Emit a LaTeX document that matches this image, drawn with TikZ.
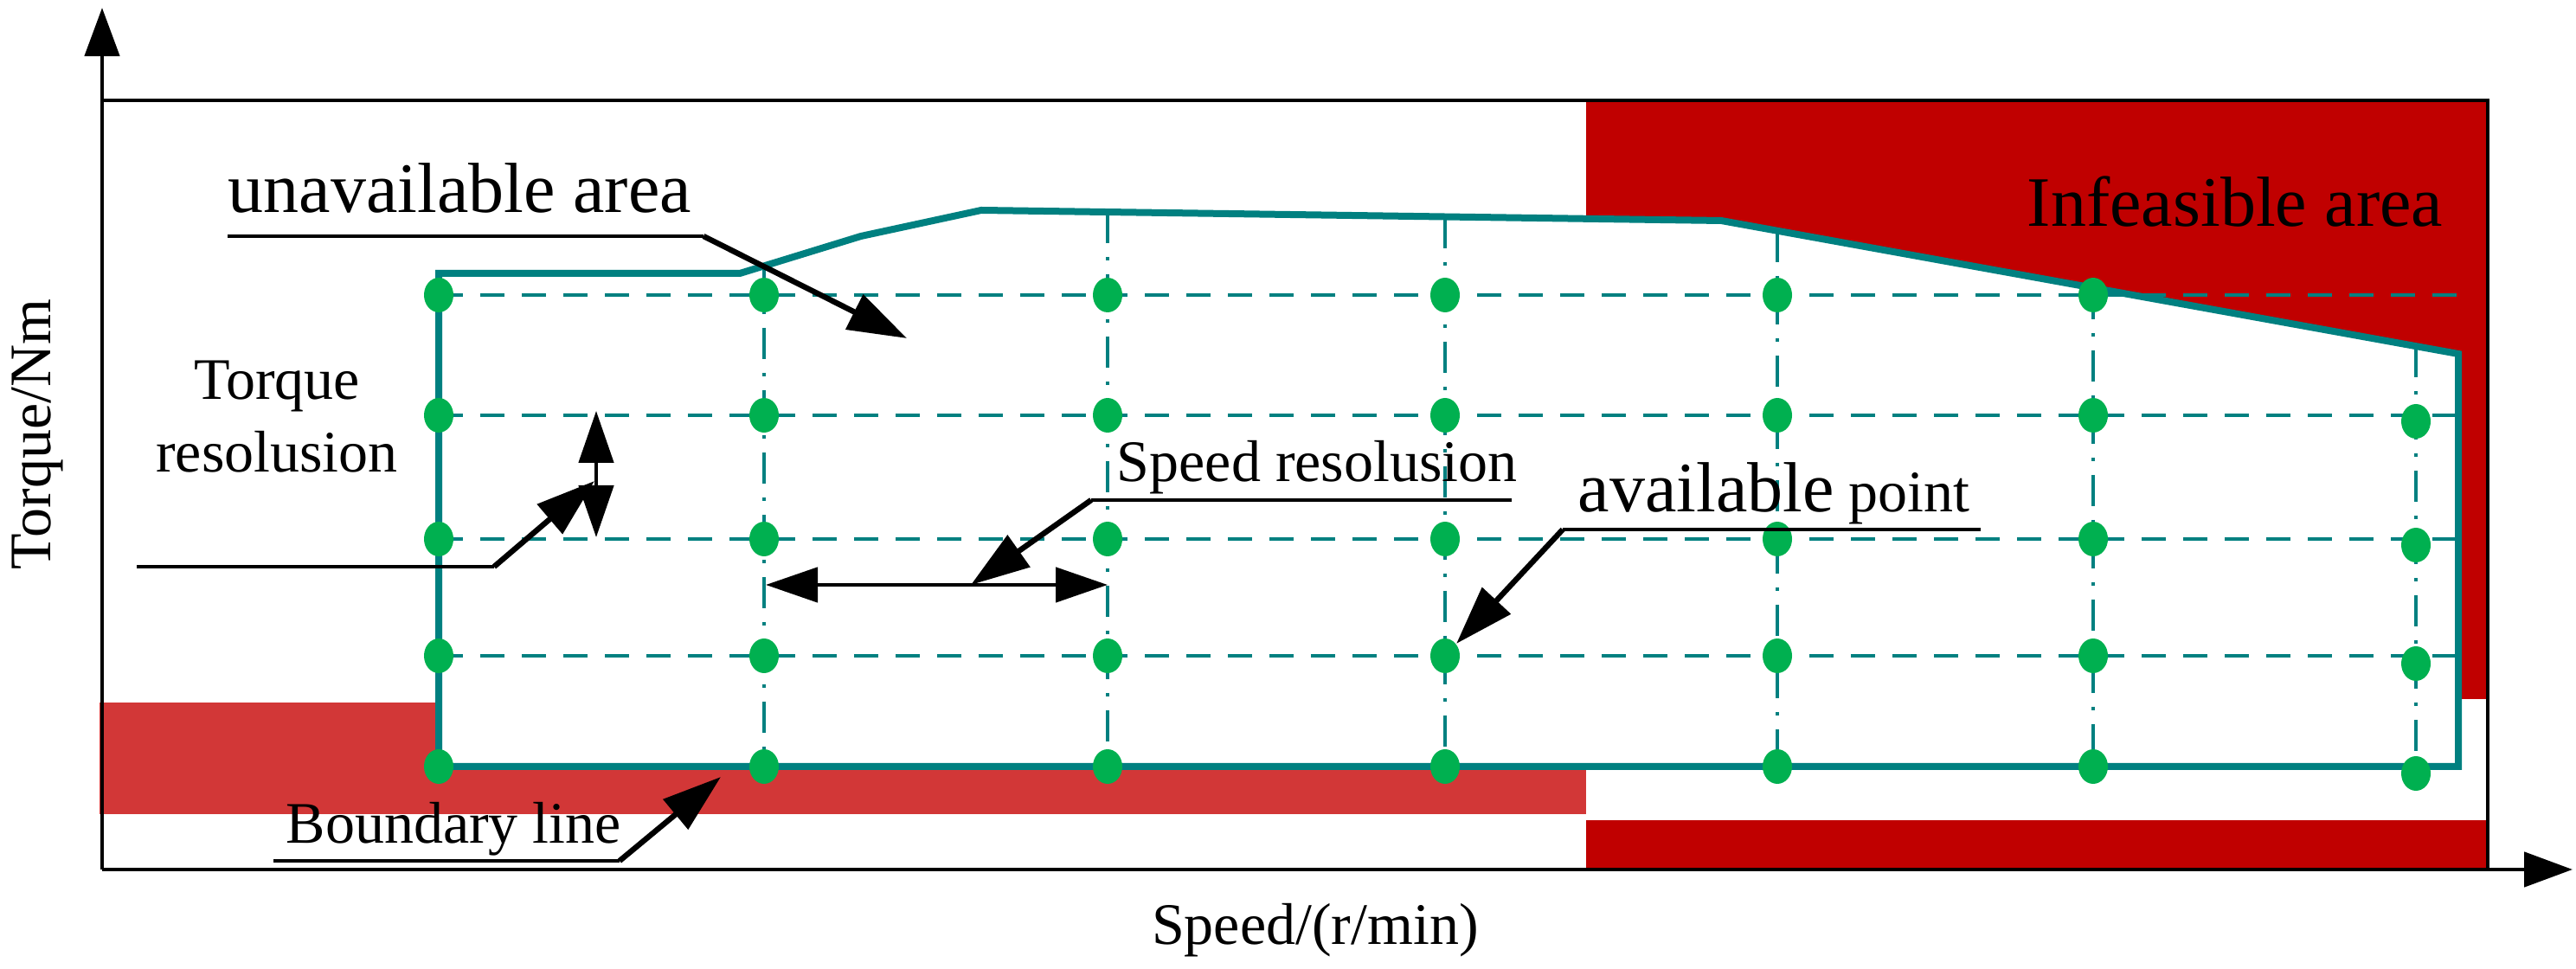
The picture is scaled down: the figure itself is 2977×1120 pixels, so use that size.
\documentclass[tikz,border=0pt]{standalone}
\usepackage{fontspec}
\setmainfont{Liberation Serif}
\usetikzlibrary{arrows.meta,shapes.geometric}
\definecolor{tealc}{RGB}{0,128,128}
\definecolor{dred}{RGB}{192,0,0}
\definecolor{hred}{RGB}{210,55,55}
\definecolor{dotg}{RGB}{0,176,80}
\begin{document}
\begin{tikzpicture}[x=0.25pt,y=-0.25pt,
  big/.style={font=\fontsize{20.5}{22}\selectfont,inner sep=0pt},
  small/.style={font=\fontsize{17}{19}\selectfont,inner sep=0pt},
  lead/.style={line width=1pt},
  fat/.style={line width=1.6pt,-{Triangle[length=17pt,width=11pt]}},
  dbl/.style={line width=1.2pt,{Triangle[length=15pt,width=10pt]}-{Triangle[length=15pt,width=10pt]}},
  grid h/.style={tealc,line width=0.9pt,dash pattern=on 7pt off 5pt},
  grid v/.style={tealc,line width=1pt,dash pattern=on 9pt off 4pt on 1pt off 4pt},
  dot/.style={ellipse,fill=dotg,minimum width=8.5pt,minimum height=10pt,inner sep=0pt}]
\useasboundingbox (0,0) rectangle (2977,1120);
% red regions
\fill[hred] (115,812) rectangle (505,941);
\fill[hred] (505,886) rectangle (1833,941);
\fill[dred] (1833,116) -- (2875,116) -- (2875,808) -- (2841,808) -- (2841,409) -- (1989,255) -- (1833,253) -- cycle;
\fill[dred] (1833,948) rectangle (2875,1005);
% frame and axes
\draw[line width=1.2pt] (118,116) -- (2875,116) -- (2875,1005);
\coordinate (o) at (118,1005);
\coordinate (ytip) at (118,9);
\coordinate (xtip) at (2973,1005);
\draw[line width=1.2pt,-{Triangle[length=14pt,width=10pt]}] (o) -- (ytip);
\draw[line width=1.2pt,-{Triangle[length=14pt,width=10pt]}] (o) -- (xtip);
% grid
\foreach \y in {341,480,623,758} \draw[grid h] (507,\y) -- (2841,\y);
\foreach \x/\t in {883/307,1280/245,1670/251,2054/267,2419/333,2792/400} \draw[grid v] (\x,\t) -- (\x,886);
% boundary
\draw[tealc,line width=2pt] (507,886) -- (507,316) -- (855,316) -- (995,273) -- (1134,243) -- (1989,255) -- (2841,409) -- (2841,886) -- cycle;
% dots
\foreach \x [count=\i] in {507,883,1280,1670,2054,2419}
  \foreach \y [count=\j] in {341,480,623,758,886}
    \node[dot] (d\i-\j) at (\x,\y) {};
\foreach \y [count=\j] in {487,630,767,894}
  \node[dot] (d7-\j) at (2792,\y) {};
% labels
\node[big,anchor=base west] (ua) at (263,246) {unavailable area};
\node[big,anchor=base east] (ia) at (2824,262) {Infeasible area};
\node[small,align=center,anchor=base] (tr) at (320,546) {Torque\\[2pt]resolusion};
\node[small,anchor=base west] (sr) at (1290,557) {Speed resolusion};
\node[anchor=base west,inner sep=0pt] (ap) at (1823,592) {\fontsize{20.5}{22}\selectfont available\fontsize{17}{19}\selectfont\ point};
\node[small,anchor=base west] (bl) at (330,975) {Boundary line};
\node[small,rotate=90] (ty) at (43,502) {Torque/Nm};
\node[small] (sx) at (1520,1075) {Speed/(r/min)};
% leaders
\coordinate (uat) at (1048,391);
\draw[lead] (263,273) -- (813,273);
\draw[fat] (813,273) -- (uat);
\coordinate (trt) at (687,556);
\draw[lead] (158,655) -- (571,655);
\draw[fat] (571,655) -- (trt);
\coordinate (tra) at (689,475); \coordinate (trb) at (689,621);
\draw[dbl] (tra) -- (trb);
\coordinate (srt) at (1122,676);
\draw[lead] (1747,578) -- (1261,578);
\draw[fat] (1261,578) -- (srt);
\coordinate (sra) at (885,676); \coordinate (srb) at (1280,676);
\draw[dbl] (sra) -- (srb);
\draw[lead] (2289,612) -- (1806,612);
\draw[fat] (1806,612) -- (d4-4);
\coordinate (blt) at (833,898);
\draw[lead] (316,995) -- (716,995);
\draw[fat] (716,995) -- (blt);
\end{tikzpicture}
\end{document}
